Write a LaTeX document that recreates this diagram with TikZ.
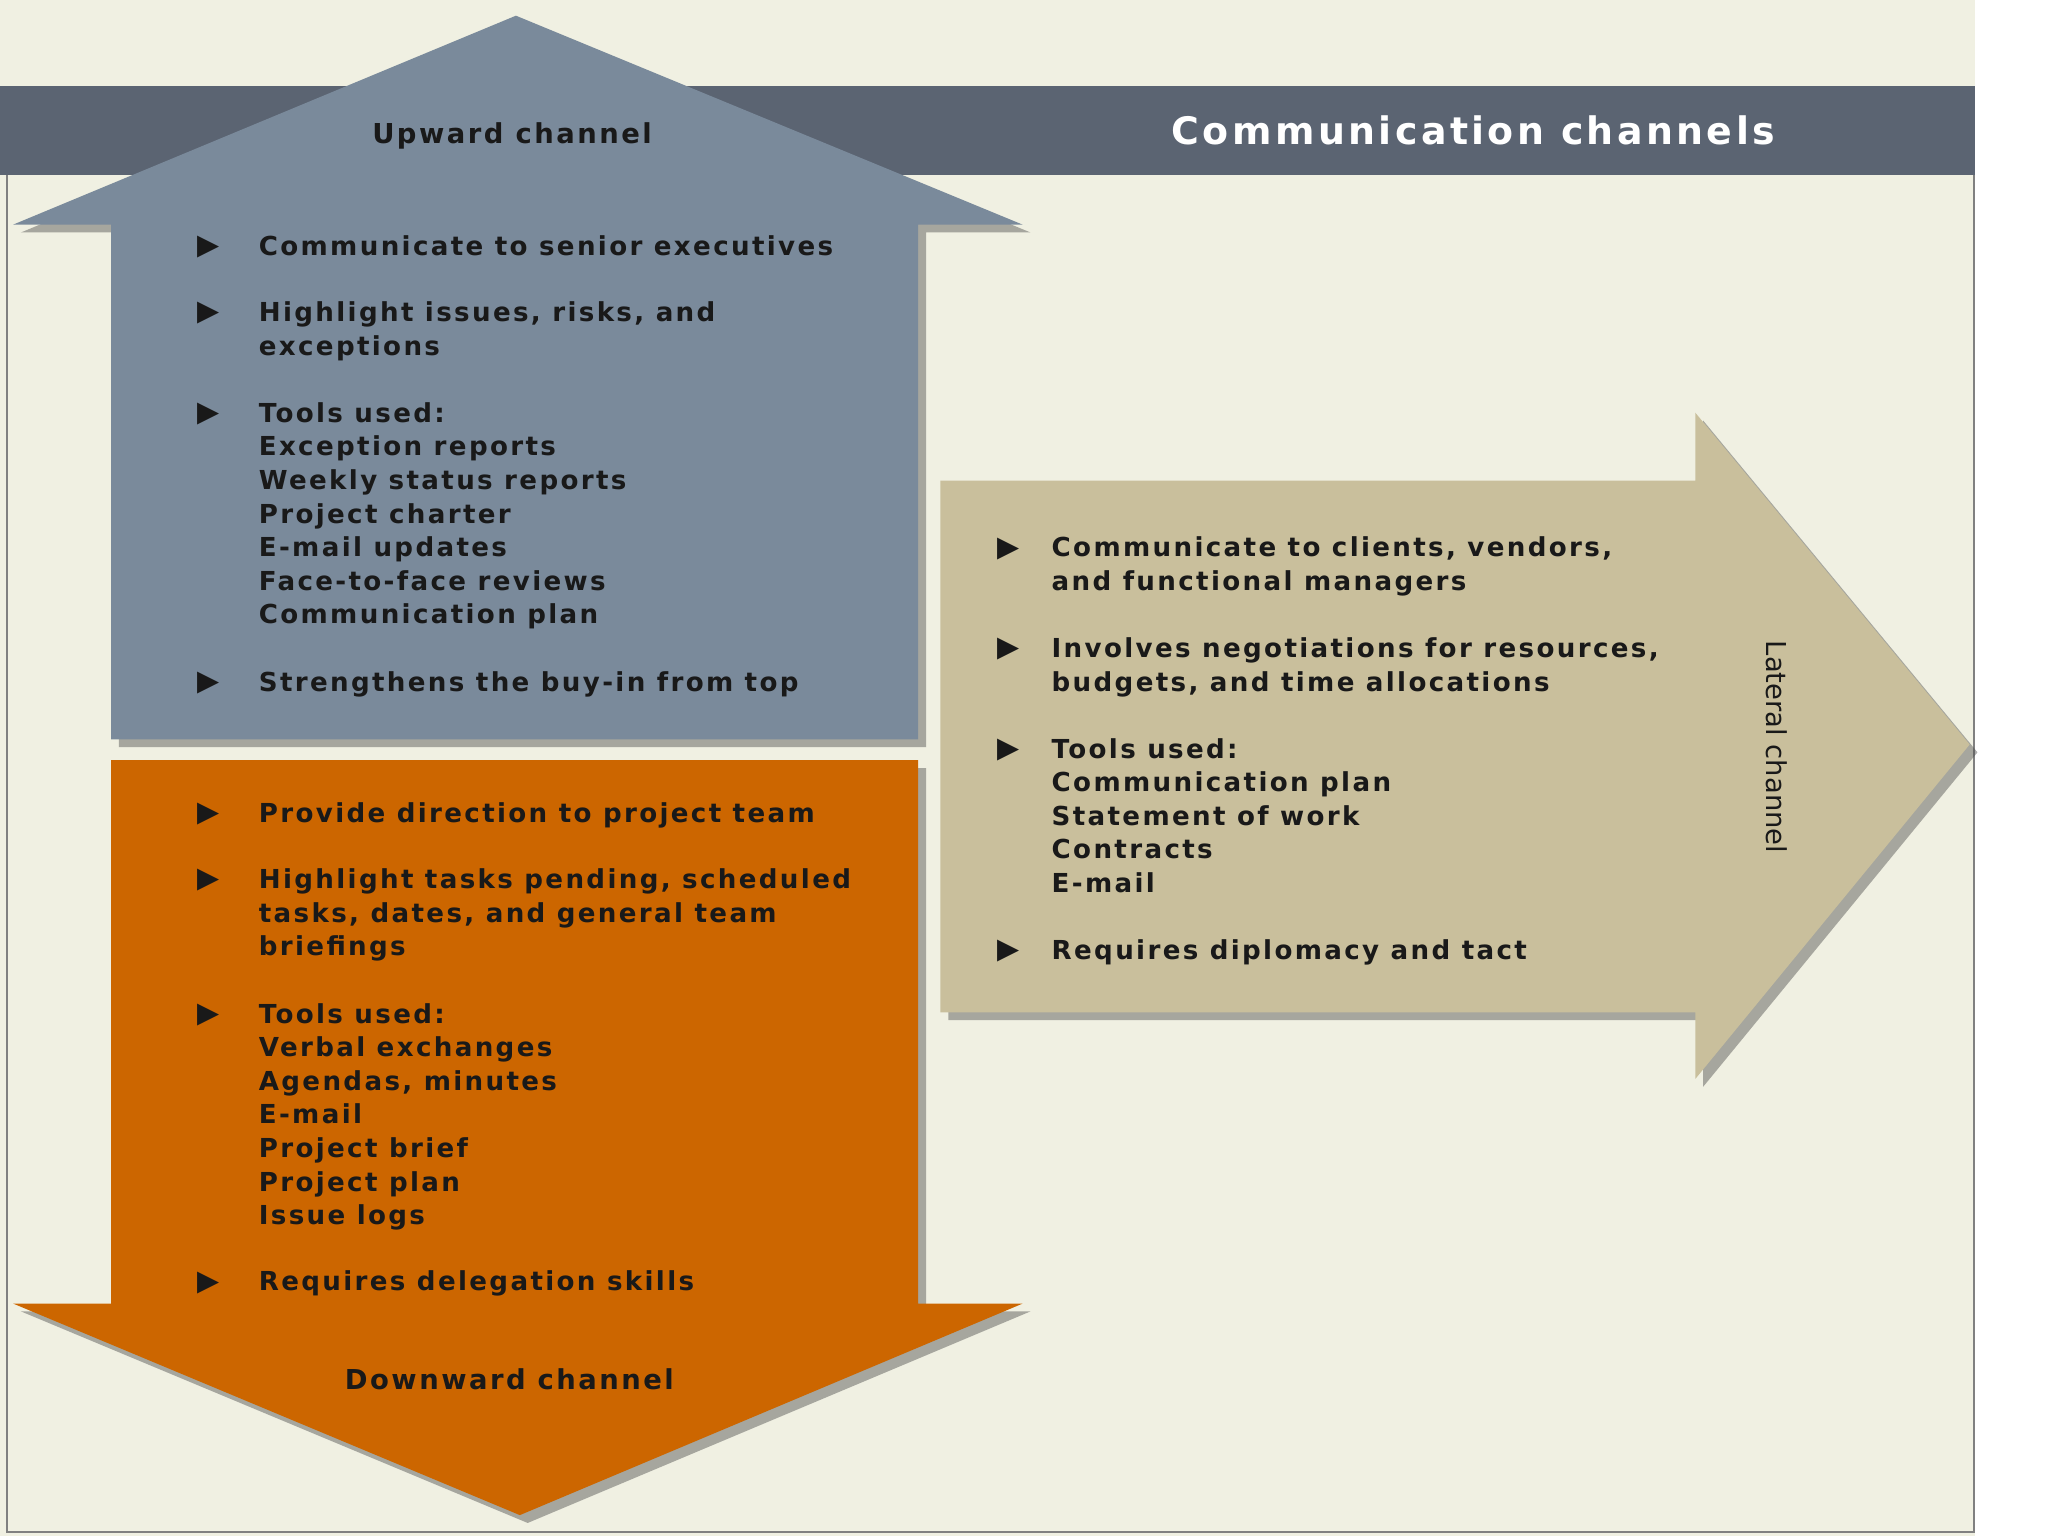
\documentclass[tikz,border=0pt]{standalone}
\usepackage{fontspec}
\setmainfont{DejaVu Sans}
\newfontfamily\wide[LetterSpace=9]{DejaVu Sans}
\usetikzlibrary{shadows}
\definecolor{bg}{HTML}{F0F0E2}
\definecolor{bar}{HTML}{5B6472}
\definecolor{up}{HTML}{7A8A9B}
\definecolor{down}{HTML}{CC6600}
\definecolor{lat}{HTML}{C9BF9C}
\tikzset{
  arr/.style={draw=none, drop shadow={shadow xshift=6pt, shadow yshift=-6pt, opacity=0.45, fill=black!70}},
  txt/.style={anchor=north west, align=left, inner sep=0pt, font=\wide\fontsize{20}{25.7}\selectfont\bfseries, text=black!90},
  bul/.style={inner sep=0pt, font=\fontsize{22}{22}\selectfont, text=black!90},
  lbl/.style={inner sep=0pt, font=\wide\fontsize{21}{24}\selectfont\bfseries, text=black!90}
}
\begin{document}
\begin{tikzpicture}[x=1pt,y=-1pt]
\useasboundingbox (0,0) rectangle (1568,1176);
\fill[bg] (0,0) rectangle (1512,1176);
\draw[black!50, line width=1.5pt] (5,134) -- (5,1173) -- (1511,1173) -- (1511,134);
\fill[bar] (0,66) rectangle (1512,134);
\node[inner sep=0pt, font=\wide\fontsize{29}{30}\selectfont\bfseries, text=white] (title) at (1128,100) {Communication channels};
% lateral arrow
\fill[lat, arr] (720,368) -- (1298,368) -- (1298,316) -- (1508,570) -- (1298,826) -- (1298,775) -- (720,775) -- cycle;
% up arrow
\fill[up, arr] (85,566) -- (85,172) -- (10,172) -- (395,12) -- (783,172) -- (703,172) -- (703,566) -- cycle;
% down arrow
\fill[down, arr] (85,582) -- (703,582) -- (703,998) -- (783,998) -- (398,1160) -- (10,998) -- (85,998) -- cycle;
\node[lbl] (upl) at (392,104) {Upward channel};
\node[lbl] (downl) at (390,1056) {Downward channel};
\node[inner sep=0pt, font=\fontsize{21}{24}\selectfont, text=black!90, rotate=-90] (latl) at (1360,572) {Lateral channel};
\foreach \y/\t [count=\i] in {189/{Communicate to senior executives},
 240/{Highlight issues, risks, and\\exceptions},
 317/{Tools used:\\Exception reports\\Weekly status reports\\Project charter\\E-mail updates\\Face-to-face reviews\\Communication plan},
 523/{Strengthens the buy-in from top}}{
  \node[bul] (ub\i) at (160,\y) {▶};
  \node[txt] (ut\i) at (198,\y-9) {\t};
}
\foreach \y/\t [count=\i] in {623/{Provide direction to project team},
 674/{Highlight tasks pending, scheduled\\tasks, dates, and general team\\briefings},
 777/{Tools used:\\Verbal exchanges\\Agendas, minutes\\E-mail\\Project brief\\Project plan\\Issue logs},
 982/{Requires delegation skills}}{
  \node[bul] (db\i) at (160,\y) {▶};
  \node[txt] (dt\i) at (198,\y-9) {\t};
}
\foreach \y/\t [count=\i] in {420/{Communicate to clients, vendors,\\and functional managers},
 497/{Involves negotiations for resources,\\budgets, and time allocations},
 574/{Tools used:\\Communication plan\\Statement of work\\Contracts\\E-mail},
 728/{Requires diplomacy and tact}}{
  \node[bul] (lb\i) at (772,\y) {▶};
  \node[txt] (lt\i) at (805,\y-9) {\t};
}
\end{tikzpicture}
\end{document}
